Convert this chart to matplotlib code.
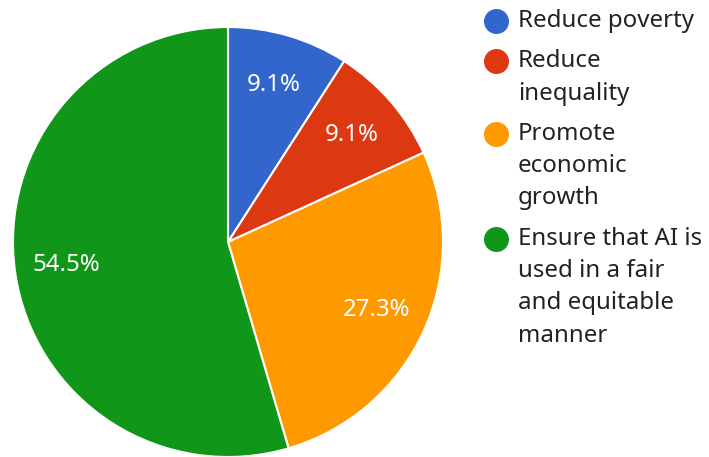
import matplotlib
matplotlib.use('Agg')
import matplotlib.pyplot as plt

plt.rcParams['font.family'] = ['Noto Sans', 'DejaVu Sans']

labels = ['Reduce poverty', 'Reduce inequality', 'Promote economic growth',
          'Ensure that AI is used in a fair and equitable manner']
legend_lines = [['Reduce poverty'],
                ['Reduce', 'inequality'],
                ['Promote', 'economic', 'growth'],
                ['Ensure that AI is', 'used in a fair', 'and equitable', 'manner']]
values = [1, 1, 3, 6]
colors = ['#3366cc', '#dc3912', '#ff9900', '#109618']

W, H = 709, 457
fig = plt.figure(figsize=(W / 100, H / 100), dpi=100)

# pie: centre (228, 242) px, radius 215 px
cx, cy, r = 228, 242, 215
ax = fig.add_axes([(cx - r) / W, (H - cy - r) / H, 2 * r / W, 2 * r / H])
wedges, texts, autotexts = ax.pie(
    values, colors=colors, startangle=90, counterclock=False,
    autopct='%1.1f%%', pctdistance=0.76,
    wedgeprops=dict(edgecolor='white', linewidth=1.5),
    textprops=dict(color='white', fontsize=17.3))
ax.set_xlim(-1, 1)
ax.set_ylim(-1, 1)
ax.set_aspect('auto')

# legend drawn by hand, in pixel coordinates
lax = fig.add_axes([0, 0, 1, 1])
lax.set_xlim(0, W)
lax.set_ylim(H, 0)
lax.axis('off')
y = 21
line_h = 32.3
for lines, col in zip(legend_lines, colors):
    lax.plot(496, y, 'o', color=col, markersize=18, markeredgewidth=0)
    for i, t in enumerate(lines):
        lax.text(518, y + i * line_h, t, fontsize=17.3, color='#222222',
                 va='center', ha='left')
    y += len(lines) * line_h + 8

fig.savefig('out.png', dpi=100)
